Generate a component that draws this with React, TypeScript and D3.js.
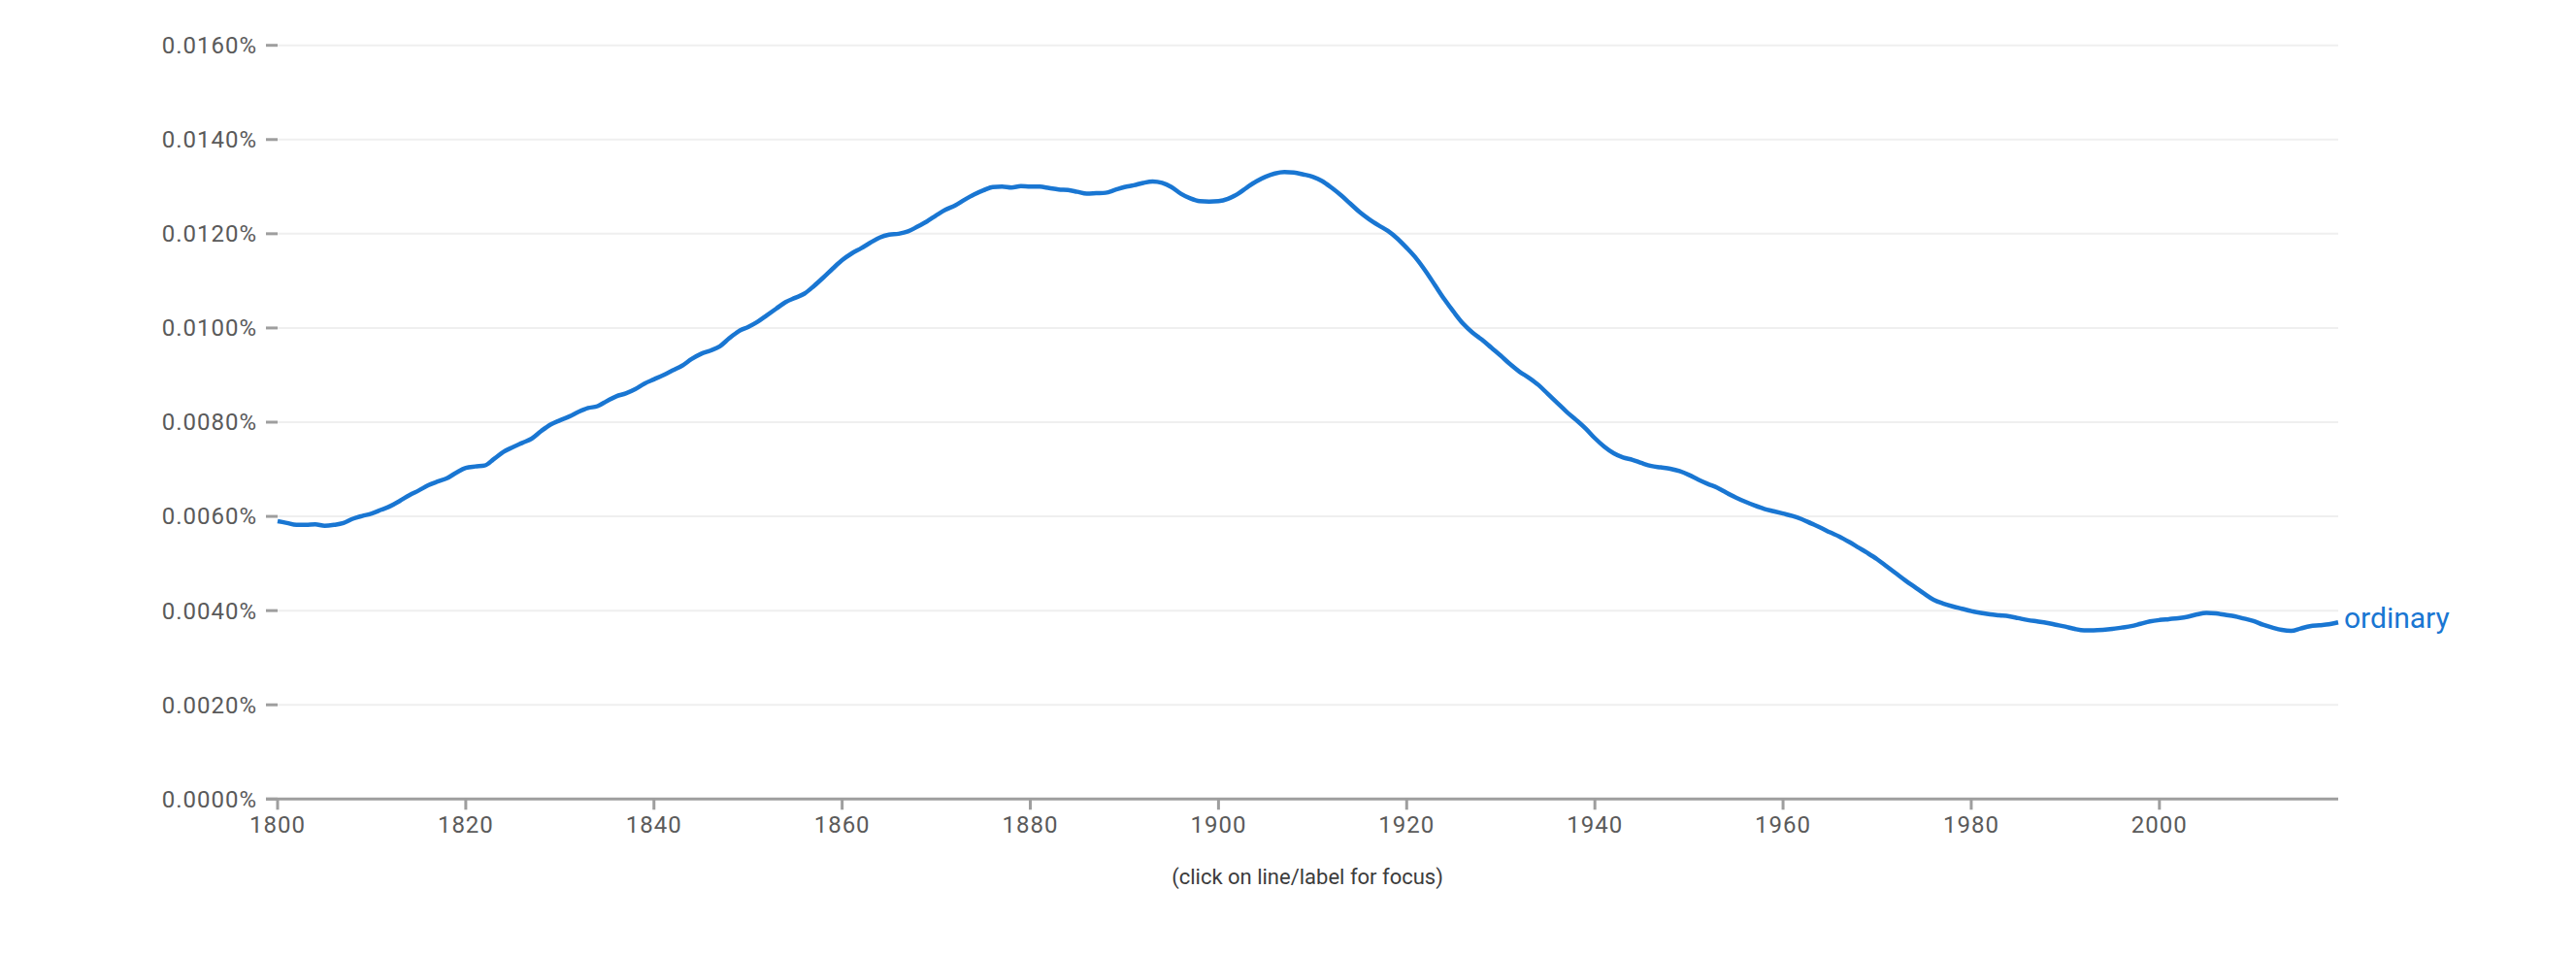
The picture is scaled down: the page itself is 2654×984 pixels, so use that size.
import React from "react";
import * as d3 from "d3";

const startYear = 1800;
const endYear = 2019;
const years: number[] = Array.from({ length: endYear - startYear + 1 }, (_, i) => startYear + i);

const ordinaryValues: number[] = [
  // 1800-1809
  0.00590, 0.00586, 0.00582, 0.00582, 0.00583, 0.00580, 0.00582, 0.00586, 0.00595, 0.00601,
  // 1810-1819
  0.00606, 0.00614, 0.00622, 0.00633, 0.00645, 0.00655, 0.00666, 0.00674, 0.00681, 0.00693,
  // 1820-1829
  0.00703, 0.00706, 0.00708, 0.00722, 0.00737, 0.00747, 0.00756, 0.00765, 0.00781, 0.00795,
  // 1830-1839
  0.00804, 0.00812, 0.00822, 0.00830, 0.00834, 0.00845, 0.00855, 0.00861, 0.00870, 0.00882,
  // 1840-1849
  0.00891, 0.00900, 0.00910, 0.00920, 0.00934, 0.00945, 0.00952, 0.00961, 0.00978, 0.00993,
  // 1850-1859
  0.01002, 0.01013, 0.01027, 0.01041, 0.01055, 0.01064, 0.01073, 0.01089, 0.01107, 0.01126,
  // 1860-1869
  0.01144, 0.01158, 0.01169, 0.01181, 0.01192, 0.01198, 0.01200, 0.01205, 0.01215, 0.01226,
  // 1870-1879
  0.01239, 0.01251, 0.01260, 0.01272, 0.01283, 0.01292, 0.01299, 0.01300, 0.01298, 0.01301,
  // 1880-1889
  0.01300, 0.01300, 0.01297, 0.01294, 0.01293, 0.01289, 0.01285, 0.01286, 0.01287, 0.01293,
  // 1890-1899
  0.01299, 0.01303, 0.01308, 0.01311, 0.01308, 0.01299, 0.01285, 0.01275, 0.01269, 0.01268,
  // 1900-1909
  0.01269, 0.01274, 0.01284, 0.01298, 0.01311, 0.01321, 0.01328, 0.01331, 0.01330, 0.01326,
  // 1910-1919
  0.01321, 0.01312, 0.01298, 0.01282, 0.01264, 0.01246, 0.01231, 0.01218, 0.01206, 0.01190,
  // 1920-1929
  0.01170, 0.01148, 0.01121, 0.01091, 0.01061, 0.01034, 0.01009, 0.00990, 0.00975, 0.00958,
  // 1930-1939
  0.00941, 0.00923, 0.00907, 0.00894, 0.00879, 0.00860, 0.00841, 0.00822, 0.00805, 0.00787,
  // 1940-1949
  0.00766, 0.00748, 0.00734, 0.00725, 0.00720, 0.00713, 0.00707, 0.00704, 0.00701, 0.00696,
  // 1950-1959
  0.00688, 0.00678, 0.00669, 0.00661, 0.00650, 0.00640, 0.00631, 0.00623, 0.00616, 0.00611,
  // 1960-1969
  0.00606, 0.00601, 0.00594, 0.00585, 0.00576, 0.00566, 0.00557, 0.00546, 0.00534, 0.00522,
  // 1970-1979
  0.00509, 0.00494, 0.00479, 0.00464, 0.00450, 0.00436, 0.00423, 0.00415, 0.00409, 0.00404,
  // 1980-1989
  0.00399, 0.00395, 0.00392, 0.00390, 0.00388, 0.00384, 0.00380, 0.00377, 0.00374, 0.00370,
  // 1990-1999
  0.00366, 0.00361, 0.00358, 0.00358, 0.00359, 0.00361, 0.00364, 0.00367, 0.00372, 0.00377,
  // 2000-2009
  0.00380, 0.00382, 0.00384, 0.00387, 0.00392, 0.00395, 0.00394, 0.00391, 0.00388, 0.00383,
  // 2010-2019
  0.00378, 0.00370, 0.00364, 0.00359, 0.00357, 0.00362, 0.00367, 0.00369, 0.00371, 0.00375,
];

const seriesName = "ordinary";
const yTicks: number[] = [0, 0.002, 0.004, 0.006, 0.008, 0.01, 0.012, 0.014, 0.016];
const xTicks: number[] = [1800, 1820, 1840, 1860, 1880, 1900, 1920, 1940, 1960, 1980, 2000];
const caption = "(click on line/label for focus)";

const W = 2654;
const H = 984;
const FONT = "Roboto, 'Noto Sans', sans-serif";

export default function App() {
  const x = d3.scaleLinear().domain([startYear, endYear]).range([286, 2409]);
  const y = d3.scaleLinear().domain([0, 0.016]).range([823.3, 46.7]);
  const data = years.map((yr, i) => ({ yr, v: ordinaryValues[i] }));
  const line = d3
    .line<{ yr: number; v: number }>()
    .x((d) => x(d.yr))
    .y((d) => y(d.v))
    .curve(d3.curveMonotoneX);
  const last = data[data.length - 1];

  return (
    <svg
      width={W}
      height={H}
      style={{ position: "absolute", left: 0, top: 0, background: "#fff" }}
    >
      {yTicks.slice(1).map((t) => (
        <line
          key={"g" + t}
          x1={x(startYear)}
          x2={x(endYear)}
          y1={y(t)}
          y2={y(t)}
          stroke="#efefef"
          strokeWidth={2}
        />
      ))}
      {yTicks.map((t) => (
        <g key={"y" + t}>
          <line x1={274} x2={286} y1={y(t)} y2={y(t)} stroke="#9e9e9e" strokeWidth={3} />
          <text
            x={265}
            y={y(t)}
            dy="0.35em"
            textAnchor="end"
            fontFamily={FONT}
            fontSize={24}
            letterSpacing={1}
            fill="#5a5a5a"
          >
            {t.toFixed(4) + "%"}
          </text>
        </g>
      ))}
      <line x1={274} x2={x(endYear)} y1={y(0)} y2={y(0)} stroke="#9e9e9e" strokeWidth={3} />
      {xTicks.map((t) => (
        <g key={"x" + t}>
          <line x1={x(t)} x2={x(t)} y1={y(0)} y2={y(0) + 11} stroke="#9e9e9e" strokeWidth={3} />
          <text
            x={x(t)}
            y={858}
            textAnchor="middle"
            fontFamily={FONT}
            fontSize={24}
            letterSpacing={1}
            fill="#5a5a5a"
          >
            {t}
          </text>
        </g>
      ))}
      <path d={line(data) || ""} fill="none" stroke="#1976d2" strokeWidth={4.5} strokeLinejoin="round" />
      <text
        x={x(last.yr) + 6}
        y={y(last.v) + 6}
        fontFamily={FONT}
        fontSize={30}
        fill="#1976d2"
      >
        {seriesName}
      </text>
      <text
        x={1347}
        y={911}
        textAnchor="middle"
        fontFamily={FONT}
        fontSize={22}
        fill="#3c3c3c"
      >
        {caption}
      </text>
    </svg>
  );
}
